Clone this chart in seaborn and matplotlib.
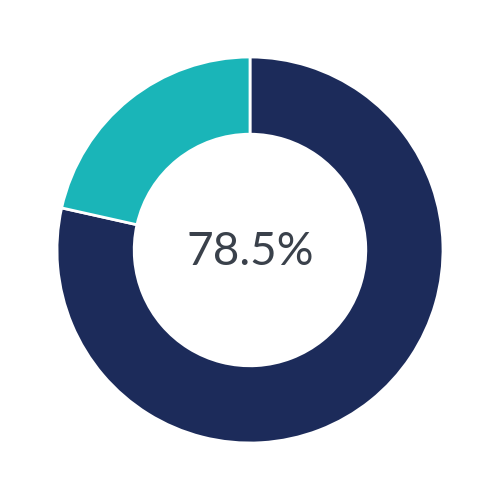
import matplotlib
matplotlib.use("Agg")
import matplotlib.pyplot as plt
import seaborn as sns

# values
labels = ["Achieved", "Remaining"]
values = [78.5, 21.5]
colors = ["#1c2b5a", "#1ab5b8"]
center_text = "78.5%"

sns.set_theme(style="white")
plt.rcParams['font.family'] = ['Lato', 'DejaVu Sans']

fig, ax = plt.subplots(figsize=(5, 5), dpi=100)
fig.subplots_adjust(left=0, right=1, bottom=0, top=1)

ax.pie(values, colors=colors, startangle=90, counterclock=False,
       radius=1.0,
       wedgeprops=dict(width=0.4, edgecolor="white", linewidth=2))
ax.text(0, -0.01, center_text, ha="center", va="center", fontsize=33,
        color="#3a414b")
ax.set_aspect("equal")
lim = 250 / 193
ax.set_xlim(-lim, lim)
ax.set_ylim(-lim, lim)
ax.axis("off")

plt.savefig("out.png", dpi=100)
